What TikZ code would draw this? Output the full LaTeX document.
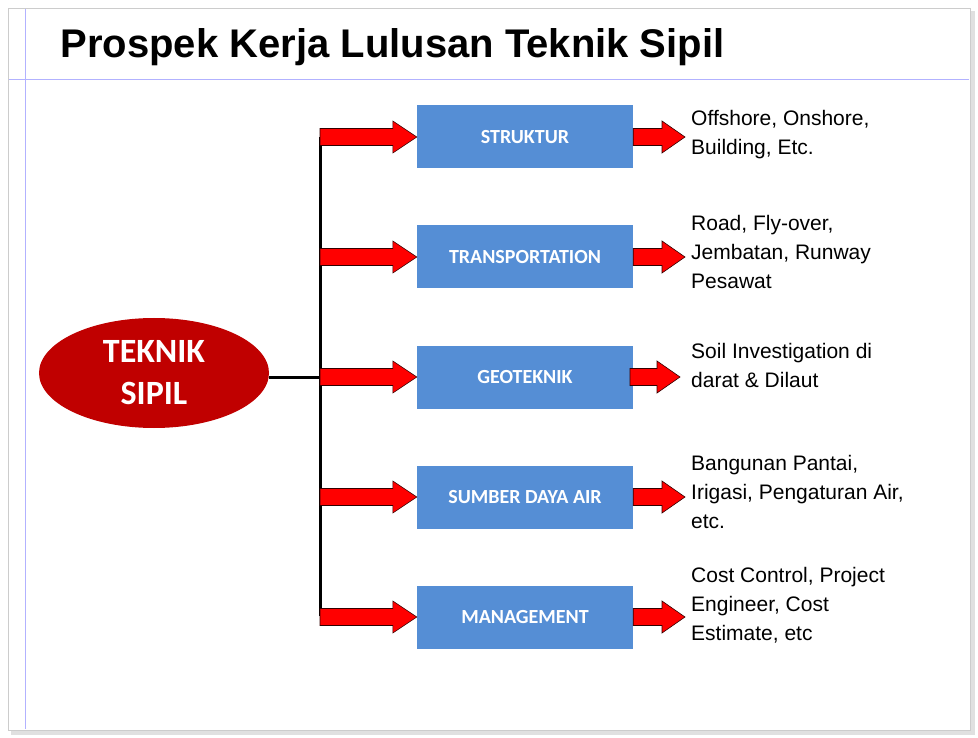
\documentclass[tikz,border=0pt]{standalone}
\usepackage{fontspec}
\setmainfont{Liberation Sans}
\newfontfamily\carlitofont{Carlito}
\usetikzlibrary{shapes.geometric,calc}
\newcommand\blockarrow[3]{\draw[barrow] let \p1=(#1), \p2=(#2) in
  (\x1,\y1+8.5) -- (\x2-#3,\y1+8.5) -- (\x2-#3,\y1+16) -- (\x2,\y1) -- (\x2-#3,\y1-16) -- (\x2-#3,\y1-8.5) -- (\x1,\y1-8.5) -- cycle;}
\definecolor{boxblue}{RGB}{85,142,213}
\definecolor{darkred}{RGB}{192,0,0}
\tikzset{
  barrow/.style={fill=red,draw=black!80!red,line width=0.6pt},
  box/.style={rectangle,fill=boxblue,minimum width=216pt,minimum height=63pt,text=white,font=\carlitofont\bfseries\fontsize{20}{24}\selectfont},
  desc/.style={anchor=north west,align=left,font=\fontsize{21}{29}\selectfont,inner sep=0pt},
}
\begin{document}
\begin{tikzpicture}[x=1pt,y=-1pt]
\useasboundingbox (0,0) rectangle (978,738);
\fill[black!12] (11,11) rectangle (975,735);
\fill[white,draw=black!20] (8,8) rectangle (970,730);
\draw[blue!30,line width=1pt] (25,9) -- (25,729);
\draw[blue!30,line width=1pt] (9,80) -- (969,80);
\node[anchor=west,font=\bfseries\fontsize{40}{44}\selectfont] (title) at (57,47) {Prospek Kerja Lulusan Teknik Sipil};
\node[ellipse,fill=darkred,minimum width=230pt,minimum height=110pt,inner sep=0pt,align=center,text=white,font=\carlitofont\bfseries\fontsize{34}{42}\selectfont] (ts) at (154,373) {TEKNIK\\SIPIL};
\coordinate (j) at (320,377);
\draw[line width=3pt] (ts.east |- j) -- (j);
\draw[line width=3pt] (320,137) -- (320,616);
\foreach \k/\t/\yy in {a/STRUKTUR/137,b/TRANSPORTATION/257,c/GEOTEKNIK/377,d/SUMBER DAYA AIR/497,e/MANAGEMENT/617}{
  \node[box] (\k) at (525,\yy) {\t};
  \coordinate (s\k) at (320,\yy);
  \blockarrow{s\k}{\k.west}{24}
}
\foreach \k in {a,b,d,e}{\coordinate (t\k) at (685,0); \blockarrow{\k.east}{t\k}{23}}
\coordinate (tc) at (680,0); \coordinate (oc) at (630,377); \blockarrow{oc}{tc}{23}
\node[desc] (da) at (691,110) {Offshore, Onshore,\\Building, Etc.};
\node[desc] (db) at (691,215) {Road, Fly-over,\\Jembatan, Runway\\Pesawat};
\node[desc] (dc) at (691,343) {Soil Investigation di\\darat \& Dilaut};
\node[desc] (dd) at (691,455) {Bangunan Pantai,\\Irigasi, Pengaturan Air,\\etc.};
\node[desc] (de) at (691,567) {Cost Control, Project\\Engineer, Cost\\Estimate, etc};
\end{tikzpicture}
\end{document}
